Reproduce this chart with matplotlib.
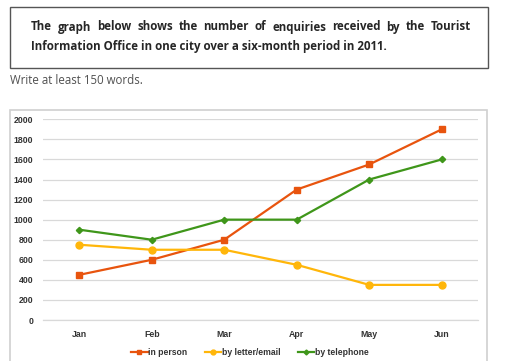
import matplotlib
matplotlib.use("Agg")
import matplotlib.pyplot as plt
from matplotlib.patches import Rectangle
from matplotlib.lines import Line2D

months = ["Jan", "Feb", "Mar", "Apr", "May", "Jun"]
in_person = [450, 600, 800, 1300, 1550, 1900]
by_letter = [750, 700, 700, 550, 350, 350]
by_phone = [900, 800, 1000, 1000, 1400, 1600]
y_ticks = [0, 200, 400, 600, 800, 1000, 1200, 1400, 1600, 1800, 2000]
series_names = ["in person", "by letter/email", "by telephone"]

line1 = "The graph below shows the number of enquiries received by the Tourist"
line2 = "Information Office in one city over a six-month period in 2011."
note = "Write at least 150 words."

W, H = 512, 361
fig = plt.figure(figsize=(W / 100, H / 100), dpi=100)
fig.patch.set_facecolor("white")

def fx(x):
    return x / W

def fy(y):
    return 1 - y / H

# top prompt box
fig.patches.append(Rectangle((fx(10), fy(68)), fx(478), 61 / H, transform=fig.transFigure,
                             fill=False, edgecolor="#555555", linewidth=1.0))

font = dict(family="Open Sans", fontsize=8.3, fontweight="bold", color="#262626")
# justified first line
words = line1.split(" ")
fig.canvas.draw()
renderer = fig.canvas.get_renderer()
texts = []
widths = []
for w in words:
    t = fig.text(0, fy(30.5), w, va="baseline", ha="left", **font)
    bb = t.get_window_extent(renderer)
    texts.append(t)
    widths.append(bb.width)
x0, x1 = 31, 471
gap = (x1 - x0 - sum(widths)) / (len(words) - 1)
x = x0
for t, wd in zip(texts, widths):
    t.set_x(fx(x))
    x += wd + gap
fig.text(fx(31), fy(50), line2, va="baseline", ha="left", **font)

fig.text(fx(10), fy(80), note, va="center", ha="left", family="Open Sans",
         fontsize=8.3, color="#505050")

# chart border
fig.patches.append(Rectangle((fx(10), fy(400)), fx(477), 290 / H, transform=fig.transFigure,
                             fill=False, edgecolor="#d0d0d0", linewidth=1.2))

ax = fig.add_axes([fx(43), fy(320), fx(478 - 43), (320 - 119.3) / H])
ax.set_xlim(-0.5, 5.5)
ax.set_ylim(0, 2000)
for s in ax.spines.values():
    s.set_visible(False)
ax.set_yticks(y_ticks)
ax.yaxis.grid(True, color="#d9d9d9", linewidth=0.9)
ax.axhline(0, color="#d9d9d9", linewidth=0.9, clip_on=False, zorder=0.5)
ax.set_axisbelow(True)
ax.tick_params(axis="both", length=0, labelsize=6.3, colors="#333333")
ax.set_xticks(range(len(months)))
ax.set_xticklabels(months, fontweight="bold", family="Liberation Sans")
for lab in ax.get_yticklabels():
    lab.set_fontweight("bold")
    lab.set_family("Liberation Sans")
ax.tick_params(axis="y", pad=7)
ax.tick_params(axis="x", pad=7)

c_person = "#E8540E"
c_letter = "#FFB60A"
c_phone = "#3F961A"
x = range(len(months))
ax.plot(x, in_person, color=c_person, lw=1.6, marker="s", ms=5, label=series_names[0], zorder=3)
ax.plot(x, by_letter, color=c_letter, lw=1.6, marker="o", ms=5, label=series_names[1], zorder=3)
ax.plot(x, by_phone, color=c_phone, lw=1.6, marker="D", ms=3.2, label=series_names[2], zorder=4)

handles = [Line2D([], [], color=c_person, lw=1.6, marker="s", ms=3.5),
           Line2D([], [], color=c_letter, lw=1.6, marker="o", ms=3.5),
           Line2D([], [], color=c_phone, lw=1.6, marker="D", ms=2.5)]
fig.legend(handles, series_names, loc="center", bbox_to_anchor=(fx(250), fy(352.7)),
           ncol=3, frameon=False, handlelength=1.9, handletextpad=0.1, columnspacing=2.0,
           prop=dict(family="Liberation Sans", size=6.2, weight="bold"), labelcolor="#333333")

fig.savefig("out.png", dpi=100, facecolor="white")
